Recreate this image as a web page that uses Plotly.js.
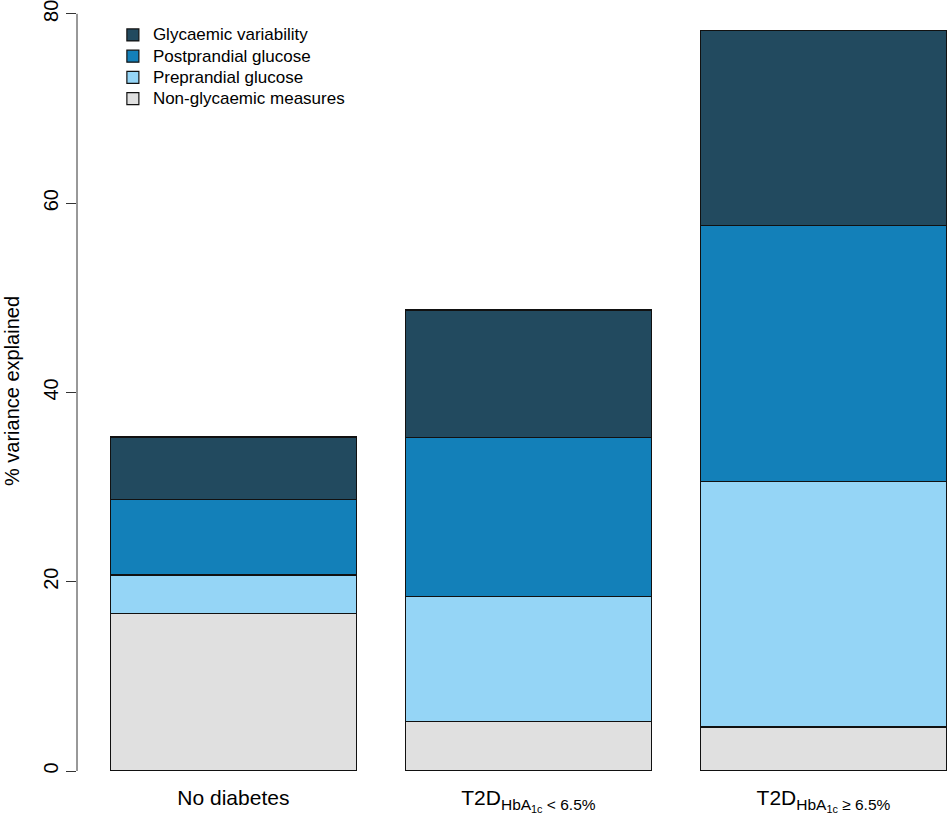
<!DOCTYPE html>
<html>
<head>
<meta charset="utf-8">
<script src="https://cdn.plot.ly/plotly-3.0.1.min.js"></script>
<style>
html, body { margin: 0; padding: 0; background: #fff; }
#chart { width: 950px; height: 815px; }
</style>
</head>
<body>
<div id="chart"></div>
<script>
// ---- data ----
var categories = ['No diabetes', 'T2D HbA1c < 6.5%', 'T2D HbA1c >= 6.5%'];
var tickLabels = [
  'No diabetes',
  'T2D<sub><span style="font-size:15.5px">HbA<sub>1c</sub> &lt; 6.5%</span></sub>',
  'T2D<sub><span style="font-size:15.5px">HbA<sub>1c</sub> ≥ 6.5%</span></sub>'
];
var seriesNames = ['Non-glycaemic measures', 'Preprandial glucose', 'Postprandial glucose', 'Glycaemic variability'];
var nonGlycaemic = [16.6, 5.2, 4.65];
var preprandial  = [4.1, 13.2, 25.95];
var postprandial = [8.0, 16.8, 27.0];
var glycaemicVar = [6.6, 13.5, 20.6];
var yTicks = [0, 20, 40, 60, 80];

var seriesValues = [nonGlycaemic, preprandial, postprandial, glycaemicVar];
var seriesColors = ['#e0e0e0', '#95d5f6', '#1380b9', '#224a5f'];

var font = 'Liberation Sans, Arial, Helvetica, sans-serif';

var traces = seriesValues.map(function (vals, i) {
  return {
    type: 'bar',
    name: '<span style="font-size:17px">' + seriesNames[i] + '</span>',
    x: categories,
    y: vals,
    marker: { color: seriesColors[i], line: { color: '#111', width: 1.2 } },
    hovertemplate: seriesNames[i] + ': %{y}<extra></extra>'
  };
});

var layout = {
  width: 950,
  height: 815,
  margin: { l: 77, r: 0, t: 11, b: 44 },
  paper_bgcolor: '#fff',
  plot_bgcolor: '#fff',
  barmode: 'stack',
  bargap: 0.1667,
  font: { family: font, size: 20, color: '#000' },
  showlegend: true,
  legend: {
    traceorder: 'reversed',
    x: 0.0411, xanchor: 'left',
    y: 0.989, yanchor: 'top',
    bgcolor: 'rgba(0,0,0,0)',
    font: { family: font, size: 14, color: '#000' },
    itemclick: false
  },
  xaxis: {
    type: 'category',
    range: [-0.53, 2.429],
    tickvals: categories,
    ticktext: tickLabels,
    showline: false,
    ticks: 'outside',
    ticklen: 8,
    tickcolor: 'rgba(0,0,0,0)',
    showgrid: false,
    zeroline: false,
    tickfont: { family: font, size: 21, color: '#000' }
  },
  yaxis: {
    range: [0, 80.3],
    tickvals: yTicks,
    ticks: 'outside',
    ticklen: 10,
    tickwidth: 1,
    tickcolor: '#333',
    ticklabeloverflow: 'allow',
    showline: false,
    showgrid: false,
    zeroline: false,
    tickangle: -90,
    tickfont: { family: font, size: 20, color: '#000' },
    title: { text: '% variance explained', font: { family: font, size: 20, color: '#000' }, standoff: 15 }
  },
  shapes: [{
    type: 'line', xref: 'paper', yref: 'y',
    x0: 0, x1: 0, y0: yTicks[0], y1: yTicks[yTicks.length - 1],
    line: { color: '#333', width: 1 }
  }]
};

Plotly.newPlot('chart', traces, layout, { displayModeBar: false });
</script>
</body>
</html>
